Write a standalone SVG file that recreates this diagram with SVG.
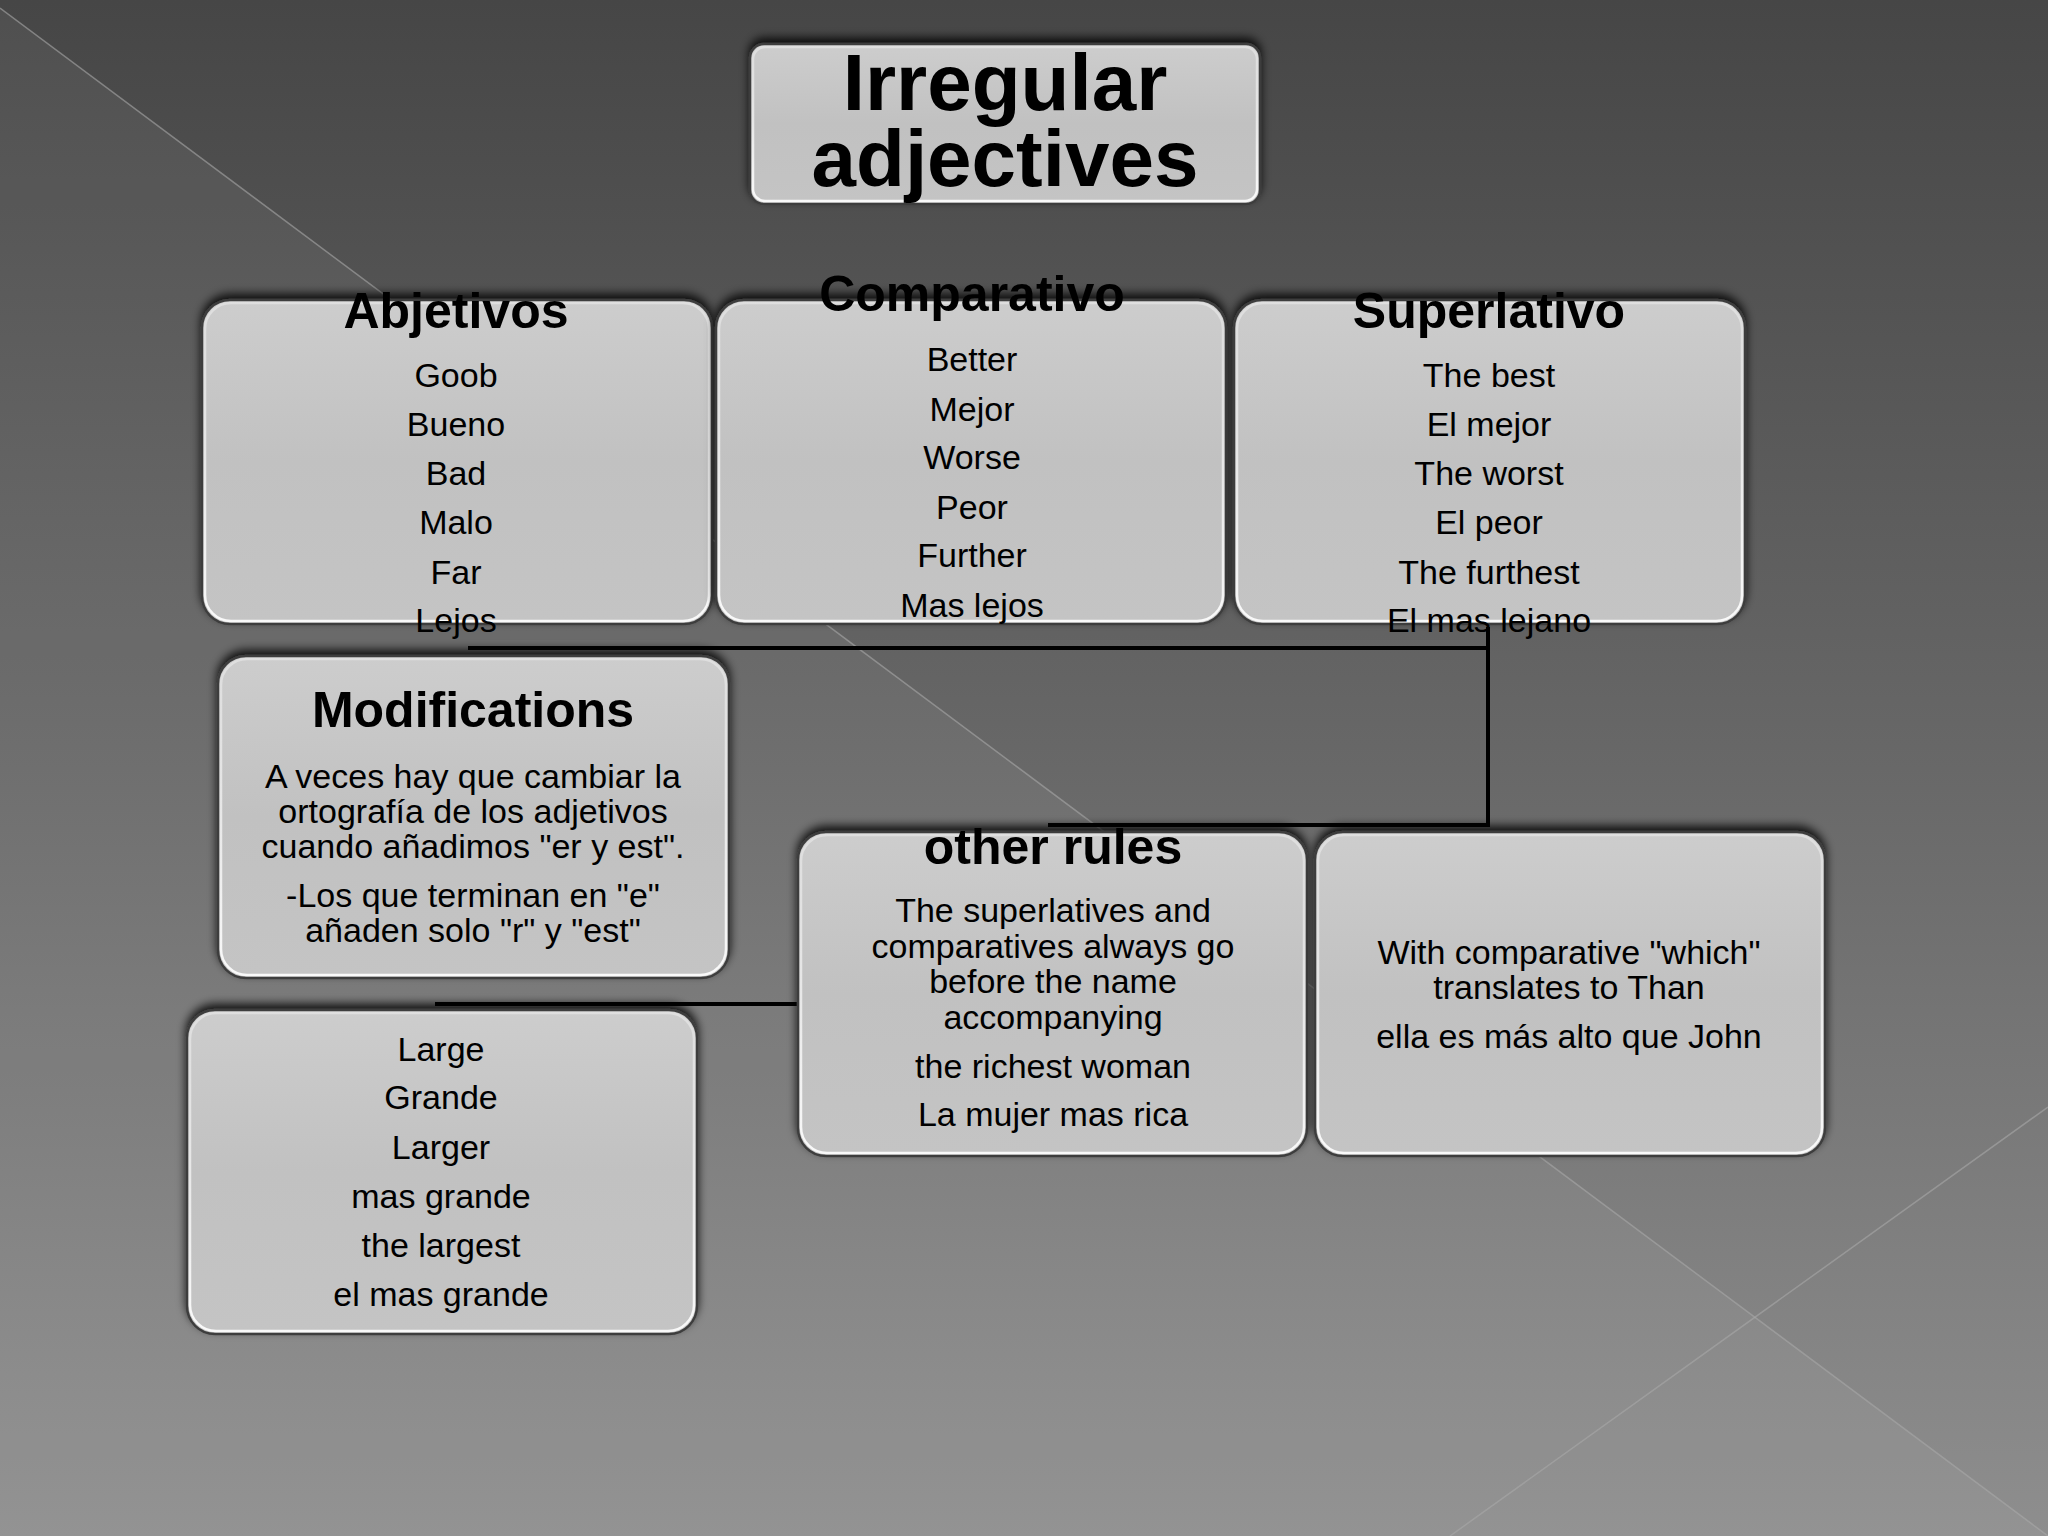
<svg xmlns="http://www.w3.org/2000/svg" width="2048" height="1536" viewBox="0 0 2048 1536">
<defs>
<linearGradient id="bg" x1="0" y1="0" x2="0" y2="1">
<stop offset="0" stop-color="#464646"/>
<stop offset="0.5" stop-color="#686868"/>
<stop offset="1" stop-color="#8e8e8e"/>
</linearGradient>
<linearGradient id="boxfill" x1="0" y1="0" x2="0" y2="1">
<stop offset="0" stop-color="#cdcdcd"/>
<stop offset="0.5" stop-color="#c1c1c1"/>
<stop offset="1" stop-color="#c4c4c4"/>
</linearGradient>
<linearGradient id="hl" x1="0" y1="0" x2="0" y2="1">
<stop offset="0" stop-color="#ffffff" stop-opacity="0.35"/>
<stop offset="1" stop-color="#ffffff" stop-opacity="0.9"/>
</linearGradient>
<filter id="sh" x="-10%" y="-20%" width="120%" height="140%">
<feDropShadow dx="0" dy="-5" stdDeviation="5" flood-color="#000" flood-opacity="0.85"/>
</filter>
<style>
.box{fill:url(#boxfill);stroke:#3e3e3e;stroke-width:2.5;filter:url(#sh)}
.hil{fill:none;stroke:url(#hl);stroke-width:2.5}
text{font-family:"Liberation Sans",Arial,sans-serif;fill:#000;text-anchor:middle}
.t{font-size:80px;font-weight:bold}
.h{font-size:50px;font-weight:bold}
.b{font-size:34px}
.conn{stroke:#000;stroke-width:4;fill:none}
.deco{stroke:#a8a8a8;stroke-opacity:0.6;stroke-width:1.5;fill:none}
</style>
</defs>
<rect width="2048" height="1536" fill="url(#bg)"/>
<polygon points="0,8 2048,1536 0,1536" fill="#ffffff" fill-opacity="0.05"/>
<line class="deco" x1="0" y1="8" x2="2048" y2="1536"/>
<line class="deco" x1="1450" y1="1536" x2="2048" y2="1107"/>

<g id="connectors">
<line class="conn" x1="468" y1="648" x2="1488" y2="648"/>
<polyline class="conn" points="1488,627 1488,825 1048,825"/>
<line class="conn" x1="435" y1="1004" x2="798" y2="1004"/>
</g>

<g id="title">
<rect class="box" x="750" y="44" width="510" height="160" rx="14"/>
<rect class="hil" x="753" y="47" width="504" height="154" rx="12"/>
<text class="t" x="1005" y="110">Irregular</text>
<text class="t" x="1005" y="186">adjectives</text>
</g>

<g id="abjetivos">
<rect class="box" x="202" y="300" width="510" height="324" rx="28"/>
<rect class="hil" x="205" y="303" width="504" height="318" rx="26"/>
<text class="h" x="456" y="328">Abjetivos</text>
<text class="b" x="456" y="387">Goob</text>
<text class="b" x="456" y="436">Bueno</text>
<text class="b" x="456" y="485">Bad</text>
<text class="b" x="456" y="534">Malo</text>
<text class="b" x="456" y="584">Far</text>
<text class="b" x="456" y="632">Lejos</text>
</g>

<g id="comparativo">
<rect class="box" x="716" y="300" width="510" height="324" rx="28"/>
<rect class="hil" x="719" y="303" width="504" height="318" rx="26"/>
<text class="h" x="972" y="311">Comparativo</text>
<text class="b" x="972" y="371">Better</text>
<text class="b" x="972" y="421">Mejor</text>
<text class="b" x="972" y="469">Worse</text>
<text class="b" x="972" y="519">Peor</text>
<text class="b" x="972" y="567">Further</text>
<text class="b" x="972" y="617">Mas lejos</text>
</g>

<g id="superlativo">
<rect class="box" x="1234" y="300" width="511" height="324" rx="28"/>
<rect class="hil" x="1237" y="303" width="505" height="318" rx="26"/>
<text class="h" x="1489" y="328">Superlativo</text>
<text class="b" x="1489" y="387">The best</text>
<text class="b" x="1489" y="436">El mejor</text>
<text class="b" x="1489" y="485">The worst</text>
<text class="b" x="1489" y="534">El peor</text>
<text class="b" x="1489" y="584">The furthest</text>
<text class="b" x="1489" y="632">El mas lejano</text>
</g>

<g id="modifications">
<rect class="box" x="218" y="656" width="511" height="322" rx="28"/>
<rect class="hil" x="221" y="659" width="505" height="316" rx="26"/>
<text class="h" x="473" y="727">Modifications</text>
<text class="b" x="473" y="788">A veces hay que cambiar la</text>
<text class="b" x="473" y="823">ortografía de los adjetivos</text>
<text class="b" x="473" y="858">cuando añadimos "er y est".</text>
<text class="b" x="473" y="907">-Los que terminan en "e"</text>
<text class="b" x="473" y="942">añaden solo "r" y "est"</text>
</g>

<g id="large">
<rect class="box" x="187" y="1010" width="510" height="324" rx="28"/>
<rect class="hil" x="190" y="1013" width="504" height="318" rx="26"/>
<text class="b" x="441" y="1061">Large</text>
<text class="b" x="441" y="1109">Grande</text>
<text class="b" x="441" y="1159">Larger</text>
<text class="b" x="441" y="1208">mas grande</text>
<text class="b" x="441" y="1257">the largest</text>
<text class="b" x="441" y="1306">el mas grande</text>
</g>

<g id="other-rules">
<rect class="box" x="798" y="832" width="509" height="324" rx="28"/>
<rect class="hil" x="801" y="835" width="503" height="318" rx="26"/>
<text class="h" x="1053" y="864">other rules</text>
<text class="b" x="1053" y="922">The superlatives and</text>
<text class="b" x="1053" y="958">comparatives always go</text>
<text class="b" x="1053" y="993">before the name</text>
<text class="b" x="1053" y="1029">accompanying</text>
<text class="b" x="1053" y="1078">the richest woman</text>
<text class="b" x="1053" y="1126">La mujer mas rica</text>
</g>

<g id="with-comparative">
<rect class="box" x="1315" y="832" width="510" height="324" rx="28"/>
<rect class="hil" x="1318" y="835" width="504" height="318" rx="26"/>
<text class="b" x="1569" y="964">With comparative "which"</text>
<text class="b" x="1569" y="999">translates to Than</text>
<text class="b" x="1569" y="1048">ella es más alto que John</text>
</g>
</svg>
